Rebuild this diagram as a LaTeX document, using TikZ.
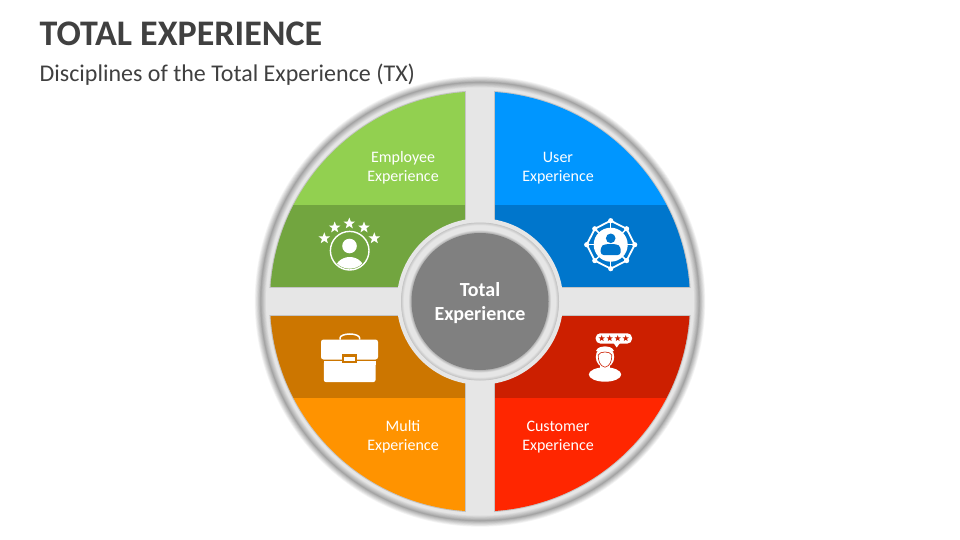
\documentclass[tikz,border=0pt]{standalone}
\usepackage{fontspec}
\setmainfont{Carlito}
\usetikzlibrary{shapes.geometric}
\definecolor{ringc}{HTML}{E6E6E6}
\definecolor{titlec}{HTML}{404040}
\definecolor{greenL}{HTML}{92D050}
\definecolor{greenD}{HTML}{72A53F}
\definecolor{blueL}{HTML}{0096FF}
\definecolor{blueD}{HTML}{0076CC}
\definecolor{orangeL}{HTML}{FF9300}
\definecolor{orangeD}{HTML}{CC7600}
\definecolor{redL}{HTML}{FF2600}
\definecolor{redD}{HTML}{CC1F00}
\definecolor{hubc}{HTML}{808080}
\definecolor{edgeA}{HTML}{A4A4A4}
\definecolor{edgeB}{HTML}{B4B4B4}
\definecolor{edgeC}{HTML}{C4C4C4}
\tikzset{
  label/.style={text=white,align=center,font=\fontsize{16}{19}\selectfont,inner sep=0pt},
  hublabel/.style={text=white,align=center,font=\fontsize{20}{24}\selectfont\bfseries,inner sep=0pt},
  starw/.style={star,star points=5,star point ratio=2.4,fill=white,draw=none,inner sep=0pt,minimum size=#1},
}
% cx cy r-outer r-inner inner-colour outer-colour : disc fading inwards between two colours
\newcommand{\softdisc}[6]{%
  \foreach \t in {0,...,8}{
    \pgfmathsetmacro{\rr}{#3-(#3-#4)*\t/8}
    \pgfmathsetmacro{\pc}{\t*12.5}
    \fill[#5!\pc!#6] (#1,#2) circle[radius=\rr];
  }}
\begin{document}
\begin{tikzpicture}[x=1pt,y=-1pt]
\useasboundingbox (0,0) rectangle (960,540);
\fill[white] (0,0) rectangle (960,540);
\node[anchor=base west,inner sep=0pt,text=titlec,font=\fontsize{36}{40}\selectfont\bfseries] (title) at (39.5,46) {TOTAL EXPERIENCE};
\node[anchor=base west,inner sep=0pt,text=titlec,font=\fontsize{24}{28}\selectfont] (subtitle) at (39.5,82) {Disciplines of the Total Experience (TX)};
% outer disc with soft edge
\softdisc{480}{301.5}{226}{219.5}{edgeA}{white}
\softdisc{480}{301.5}{219.5}{214}{ringc}{edgeA}
% quadrants: soft grey edge under each colour block
\begin{scope}
  \clip (480,301.5) circle[radius=211];
  \fill[edgeC] (258,80) rectangle (465.8,287.8);
  \fill[edgeC] (494.2,80) rectangle (702,287.8);
  \fill[edgeC] (258,315.2) rectangle (465.8,525);
  \fill[edgeC] (494.2,315.2) rectangle (702,525);
\end{scope}
\begin{scope}
  \clip (480,301.5) circle[radius=210];
  \fill[greenL] (260,85) rectangle (465,205);
  \fill[greenD] (260,205) rectangle (465,287);
  \fill[blueL] (495,85) rectangle (700,205);
  \fill[blueD] (495,205) rectangle (700,287);
  \fill[orangeD] (260,316) rectangle (465,398);
  \fill[orangeL] (260,398) rectangle (465,520);
  \fill[redD] (495,316) rectangle (700,398);
  \fill[redL] (495,398) rectangle (700,520);
\end{scope}
% hub
\fill[ringc] (480,301.5) circle[radius=83.2];
\softdisc{480}{301.5}{79}{76}{ringc}{edgeC}
\softdisc{480}{301.5}{71.5}{69}{edgeB}{ringc}
\fill[hubc] (480,301.5) circle[radius=68.5];
\node[hublabel] (hubtext) at (480,303) {Total\\Experience};
% labels
\node[label] (emp) at (403,168) {Employee\\Experience};
\node[label] (usr) at (558,168) {User\\Experience};
\node[label] (mul) at (403,437) {Multi\\Experience};
\node[label] (cus) at (558,437) {Customer\\Experience};
% icon: employee
\draw[white,line width=1.4pt] (349.7,250.7) circle[radius=19.3];
\fill[white] (349.5,246) circle[radius=7.3];
\begin{scope}
  \clip (349.7,250.7) circle[radius=18];
  \fill[white] (349.7,272) ellipse[x radius=15.5,y radius=15];
\end{scope}
\node[starw=12pt] (s1) at (324.3,238.3) {};
\node[starw=12pt] (s2) at (334.7,227.5) {};
\node[starw=12pt] (s3) at (349.3,223.5) {};
\node[starw=12pt] (s4) at (364,227.5) {};
\node[starw=12pt] (s5) at (374.3,238.3) {};
% icon: user
\begin{scope}[shift={(610.7,244.7)}]
  \draw[white,line width=1.8pt,line join=round] (0:24) -- (45:22.5) -- (90:24) -- (135:22.5) -- (180:24) -- (225:22.5) -- (270:24) -- (315:22.5) -- cycle;
  \foreach \a/\r in {0/24,45/22.5,90/24,135/22.5,180/24,225/22.5,270/24,315/22.5}{
    \draw[white,line width=1.5pt] (0,0) -- (\a:\r);
    \fill[white] (\a:\r) circle[radius=2.6];
  }
  \fill[white] (0,0) circle[radius=17];
  \fill[blueD] (0,-6.4) circle[radius=4.8];
  \fill[blueD,rounded corners=3pt] (-10,10.3) -- (-10,2) -- (-6,-0.6) -- (6,-0.6) -- (10,2) -- (10,10.3) -- cycle;
\end{scope}
% icon: briefcase
\draw[white,line width=1.5pt] (340,339.5) -- (340,338) arc[start angle=180,end angle=360,x radius=9.8,y radius=4] -- (359.6,339.5);
\fill[white,rounded corners=2.5pt] (321,339.5) rectangle (378,359.5);
\fill[white,rounded corners=2pt] (323.8,361) rectangle (375.5,382);
\fill[white] (323.8,361) rectangle (375.5,365);
\fill[orangeD] (341.7,354) rectangle (357.3,363.4);
\fill[white] (344.3,356.6) rectangle (354.8,360.8);
% icon: customer
\fill[white,rounded corners=4.5pt] (595.7,333.3) rectangle (632,343.5);
\fill[white] (613.5,343) -- (616.7,347.5) -- (620,343) -- cycle;
\foreach \n/\x in {a/601.7,b/609.7,c/617.7,d/625.7}{
  \node[star,star points=5,star point ratio=2.4,fill=redD,inner sep=0pt,minimum size=6.5pt] (c\n) at (\x,338.4) {};
}
\fill[white] (605,374.5) ellipse[x radius=16.2,y radius=7.2];
\fill[white] (600,362) rectangle (610,370);
\fill[white] (605,357) ellipse[x radius=9.2,y radius=10.5];
\fill[white] (596,351) to[out=70,in=180] (605,346.6) to[out=0,in=110] (614,351) -- cycle;
\draw[redD,line width=0.6pt,fill=white] (598.2,355) to[out=70,in=190] (605,352) to[out=-10,in=110] (611.8,355) to[out=-90,in=10] (605,367.2) to[out=170,in=-90] cycle;
\end{tikzpicture}
\end{document}
